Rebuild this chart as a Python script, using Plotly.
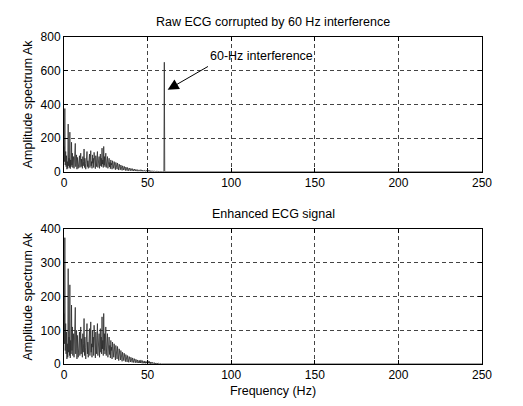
import numpy as np
import plotly.graph_objects as go

# Frequency grid of the ECG spectrum (Hz), 0.25 Hz resolution up to 60 Hz
freq_low = np.arange(0, 60.25, 0.25).tolist()

# Amplitude spectrum Ak of the ECG, 20 values per 5 Hz
ecg_amp = [
    150, 60, 375, 40, 120, 30, 95, 15, 60, 20, 283, 35, 80, 25, 235, 18, 70, 30, 175, 40,    # 0-5
    110, 25, 60, 90, 20, 75, 40, 168, 30, 55, 100, 15, 85, 45, 20, 70, 35, 95, 25, 60,       # 5-10
    110, 30, 75, 45, 20, 90, 35, 60, 135, 25, 80, 50, 15, 95, 40, 120, 30, 65, 20, 85,       # 10-15
    45, 105, 25, 70, 125, 35, 60, 20, 100, 50, 80, 25, 115, 40, 65, 18, 95, 55, 30, 85,      # 15-20
    120, 25, 70, 40, 90, 20, 60, 105, 35, 80, 30, 140, 45, 70, 25, 150, 40, 90, 30, 60,      # 20-25
    110, 25, 75, 40, 90, 20, 65, 35, 80, 28, 55, 18, 70, 40, 50, 15, 65, 30, 45, 20,         # 25-30
    60, 22, 48, 12, 55, 28, 40, 15, 52, 20, 38, 10, 45, 25, 32, 12, 40, 18, 30, 8,           # 30-35
    35, 15, 28, 10, 32, 12, 24, 7, 28, 14, 20, 6, 25, 10, 18, 5, 22, 12, 16, 6,              # 35-40
    20, 8, 15, 5, 18, 9, 13, 4, 16, 7, 12, 4, 14, 6, 10, 3, 12, 5, 9, 3,                     # 40-45
    11, 4, 8, 3, 12, 5, 7, 2, 10, 4, 6, 2, 9, 3, 6, 2, 8, 3, 5, 2,                           # 45-50
    12, 3, 7, 2, 8, 2, 5, 1, 6, 2, 4, 1, 5, 2, 3, 1, 4, 1, 3, 1,                             # 50-55
    3, 1, 2, 1, 2, 1, 2, 0, 1, 0, 1, 0, 0, 0, 0, 0, 0, 0, 0, 0,                              # 55-60
    0,                                                                                       # 60
]

# 60 Hz interference spike and flat tail up to 250 Hz
spike_freq = [60.0, 60.25, 250.0]
spike_amp = [650, 0, 0]
tail_freq = [60.25, 250.0]
tail_amp = [0, 0]

raw_x = freq_low[:-1] + spike_freq
raw_y = ecg_amp[:-1] + spike_amp
enh_x = freq_low + tail_freq
enh_y = ecg_amp + tail_amp

x_ticks = [0, 50, 100, 150, 200, 250]
y_ticks_top = [0, 200, 400, 600, 800]
y_ticks_bot = [0, 100, 200, 300, 400]

FONT = "Liberation Sans, Arial, sans-serif"
LINE = "#2a2a2a"

fig = go.Figure()
fig.add_trace(go.Scatter(x=raw_x, y=raw_y, mode="lines",
                         line=dict(color=LINE, width=0.8), xaxis="x", yaxis="y",
                         showlegend=False))
fig.add_trace(go.Scatter(x=enh_x, y=enh_y, mode="lines",
                         line=dict(color=LINE, width=0.8), xaxis="x2", yaxis="y2",
                         showlegend=False))

axis_common = dict(
    showline=True, linecolor="black", linewidth=1, mirror="ticks",
    ticks="inside", ticklen=4, tickcolor="black",
    showgrid=True, gridcolor="#444", gridwidth=1, griddash="4px,3px",
    zeroline=False, tickfont=dict(family=FONT, size=12, color="black"),
)

fig.update_layout(
    width=523, height=406,
    margin=dict(l=64, r=41, t=37, b=42),
    paper_bgcolor="white", plot_bgcolor="white",
    font=dict(family=FONT, size=12, color="black"),
    xaxis=dict(domain=[0, 1], range=[0, 250], tickvals=x_ticks, anchor="y",
               **axis_common),
    yaxis=dict(domain=[0.588, 1], range=[0, 800], tickvals=y_ticks_top,
               anchor="x",
               title=dict(text="Amplitude spectrum Ak", standoff=5,
                          font=dict(family=FONT, size=12.5)),
               **axis_common),
    xaxis2=dict(domain=[0, 1], range=[0, 250], tickvals=x_ticks, anchor="y2",
                title=dict(text="Frequency (Hz)", standoff=4,
                           font=dict(family=FONT, size=12.5)),
                **axis_common),
    yaxis2=dict(domain=[0, 0.412], range=[0, 400], tickvals=y_ticks_bot,
                anchor="x2",
                title=dict(text="Amplitude spectrum Ak", standoff=5,
                           font=dict(family=FONT, size=12.5)),
                **axis_common),
    annotations=[
        dict(text="Raw ECG corrupted by 60 Hz interference", xref="paper",
             yref="paper", x=0.5, y=1.0, yshift=15, showarrow=False,
             xanchor="center", yanchor="middle",
             font=dict(family=FONT, size=12.5)),
        dict(text="Enhanced ECG signal", xref="paper", yref="paper",
             x=0.5, y=0.412, yshift=15, showarrow=False,
             xanchor="center", yanchor="middle",
             font=dict(family=FONT, size=12.5)),
        dict(text="60-Hz interference", xref="x", yref="y", x=118, y=690,
             showarrow=False, xanchor="center", yanchor="middle",
             font=dict(family=FONT, size=12.5)),
        dict(text="", xref="x", yref="y", x=62, y=487, axref="x", ayref="y",
             ax=87, ay=630, showarrow=True, arrowhead=2, arrowsize=2.2,
             arrowwidth=1, arrowcolor="black"),
    ],
)

fig.write_html(
    "out.html",
    config={"displayModeBar": False},
    post_script="document.body.style.margin='0';"
                "document.body.style.overflow='hidden';",
)
